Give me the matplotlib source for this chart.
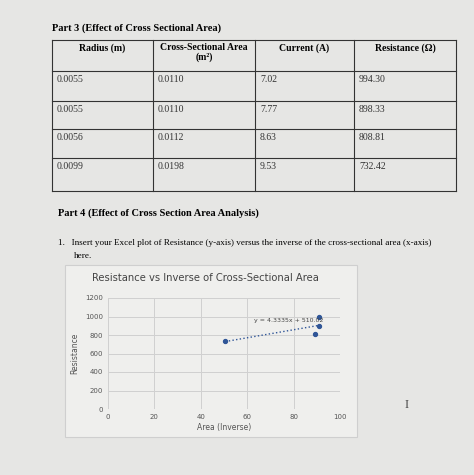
import matplotlib
matplotlib.use("Agg")
import matplotlib.pyplot as plt
import numpy as np

headers = ["Radius (m)", "Cross-Sectional Area\n(m²)", "Current (A)", "Resistance (Ω)"]
radius = ["0.0055", "0.0055", "0.0056", "0.0099"]
area = ["0.0110", "0.0110", "0.0112", "0.0198"]
current = ["7.02", "7.77", "8.63", "9.53"]
resistance = ["994.30", "898.33", "808.81", "732.42"]

inv_area = [1/0.0110, 1/0.0110, 1/0.0112, 1/0.0198]
res_vals = [994.30, 898.33, 808.81, 732.42]
fit_slope, fit_int = 4.3335, 510.02

fig = plt.figure(figsize=(4.74, 4.75), dpi=100)
fig.patch.set_facecolor("#e6e6e4")
bg = fig.add_axes([0, 0, 1, 1])
bg.set_xlim(0, 474); bg.set_ylim(475, 0); bg.axis("off")
serif = "Liberation Serif"

bg.text(52, 33, "Part 3 (Effect of Cross Sectional Area)", fontsize=7.5, fontweight="bold", family=serif, va="bottom")
cols = [52, 153, 255, 354, 456]
rows = [40, 71, 101, 129, 158, 191]
for x in cols:
    bg.plot([x, x], [rows[0], rows[-1]], color="#333", lw=0.8)
for y in rows:
    bg.plot([cols[0], cols[-1]], [y, y], color="#333", lw=0.8)
for i, h in enumerate(headers):
    bg.text((cols[i]+cols[i+1])/2, 43, h, fontsize=7, fontweight="bold", family=serif, ha="center", va="top", linespacing=1.1)
data = list(zip(radius, area, current, resistance))
for r, row in enumerate(data):
    for c, v in enumerate(row):
        bg.text(cols[c]+5, rows[r+1]+4, v, fontsize=7, family=serif, va="top", color="#333")

bg.text(58, 213, "Part 4 (Effect of Cross Section Area Analysis)", fontsize=7.5, fontweight="bold", family=serif, va="center")
bg.text(58, 243, "1.   Insert your Excel plot of Resistance (y-axis) versus the inverse of the cross-sectional area (x-axis)", fontsize=6.6, family=serif, va="center")
bg.text(74, 256, "here.", fontsize=6.6, family=serif, va="center")
bg.add_patch(plt.Rectangle((65, 265), 292, 172, facecolor="#efefed", edgecolor="#cfcfcf", lw=0.8))
bg.text(205, 278, "Resistance vs Inverse of Cross-Sectional Area", fontsize=7.2, ha="center", va="center", color="#444")
bg.text(405, 408, "I", fontsize=9, color="#444", family=serif)

ax = fig.add_axes([108/474, (475-409)/475, 232/474, 111/475])
ax.set_facecolor("#efefed")
ax.scatter(inv_area, res_vals, s=8, color="#2f5597", zorder=3)
xs = np.array([min(inv_area), max(inv_area)])
ax.plot(xs, fit_slope*xs + fit_int, ls=":", color="#2f5597", lw=1)
ax.text(63, 940, "y = 4.3335x + 510.02", fontsize=4.5, color="#444")
ax.set_xlim(0, 100); ax.set_ylim(0, 1200)
ax.set_xticks(range(0, 101, 20)); ax.set_yticks(range(0, 1201, 200))
ax.grid(color="#d0d0d0", lw=0.7)
for s in ax.spines.values():
    s.set_visible(False)
ax.tick_params(length=0, labelsize=5, colors="#555")
ax.set_xlabel("Area (Inverse)", fontsize=5.5, color="#555", labelpad=2)
ax.set_ylabel("Resistance", fontsize=5.5, color="#555")
fig.savefig("out.png", dpi=100, facecolor=fig.get_facecolor())
